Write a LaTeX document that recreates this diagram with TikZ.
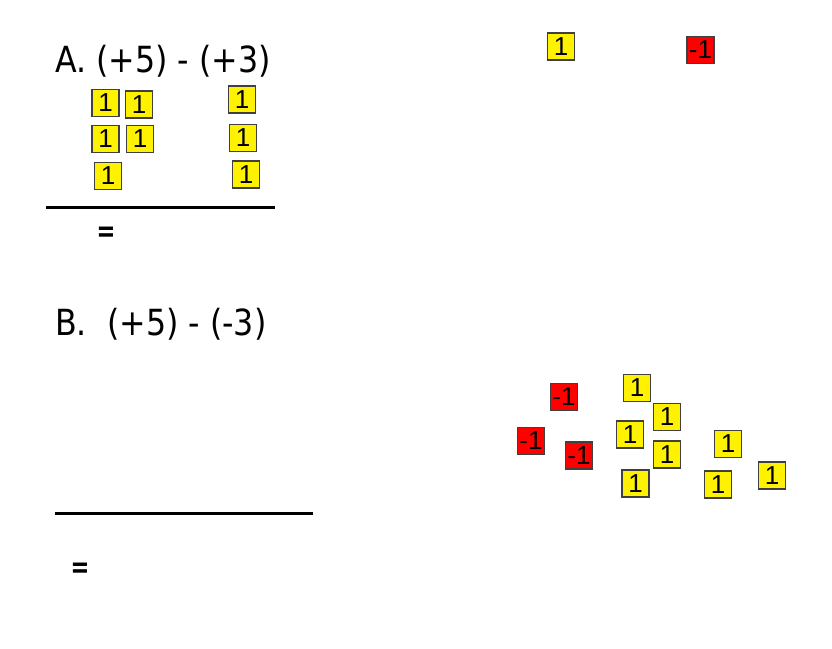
\documentclass[tikz,border=0pt]{standalone}
\usepackage{fontspec}
\setmainfont{DejaVu Sans}
\newfontfamily\titlefont[FakeStretch=0.88]{DejaVu Sans}
\newfontfamily\eqfont[FakeStretch=0.75]{DejaVu Sans Bold}
\newfontfamily\tilefont{Liberation Sans}
\begin{document}
\begin{tikzpicture}[x=1pt,y=-1pt,
  tile/.style={draw=black!75,line width=1.1pt,minimum size=27pt,inner sep=0pt,
    font=\tilefont\fontsize{26}{26}\selectfont},
  ptile/.style={tile,fill=yellow},
  ntile/.style={tile,fill=red},
  title/.style={anchor=base west,inner sep=0pt,font=\titlefont\fontsize{36}{36}\selectfont},
  eqsign/.style={inner sep=0pt,font=\eqfont\fontsize{30}{30}\selectfont},
  rule/.style={line width=3pt}]
\useasboundingbox (0,0) rectangle (832,648);
% Section A
\node[title] (ta) at (55,72) {A. (+5) - (+3)};
\node[ptile] (a1) at (105.5,103) {1};
\node[ptile] (a2) at (139,104.5) {1};
\node[ptile] (a3) at (242,99.5) {1};
\node[ptile] (a4) at (105.5,139) {1};
\node[ptile] (a5) at (140,139) {1};
\node[ptile] (a6) at (243,138) {1};
\node[ptile] (a7) at (108,176) {1};
\node[ptile] (a8) at (246,174.5) {1};
\coordinate (la1) at (46,207);
\coordinate (la2) at (275,207);
\draw[rule] (la1) -- (la2);
\node[eqsign] (ea) at (106,234.5) {=};
% top spare tiles
\node[ptile] (s1) at (561,46.5) {1};
\node[ntile] (s2) at (700.5,50) {-1};
% Section B
\node[title] (tb) at (55,335) {B.\ \ (+5) - (-3)};
\node[ntile] (r1) at (564,397) {-1};
\node[ptile] (y1) at (637,388) {1};
\node[ptile] (y2) at (667,417) {1};
\node[ntile] (r2) at (531,441) {-1};
\node[ptile] (y3) at (630,434.5) {1};
\node[ntile] (r3) at (579,455.5) {-1};
\node[ptile] (y4) at (667,454.5) {1};
\node[ptile] (y5) at (728,444) {1};
\node[ptile] (y6) at (635.5,483.5) {1};
\node[ptile] (y7) at (718,484.5) {1};
\node[ptile] (y8) at (772,475.5) {1};
\coordinate (lb1) at (55,513);
\coordinate (lb2) at (313,513);
\draw[rule] (lb1) -- (lb2);
\node[eqsign] (eb) at (80,570) {=};
\end{tikzpicture}
\end{document}
